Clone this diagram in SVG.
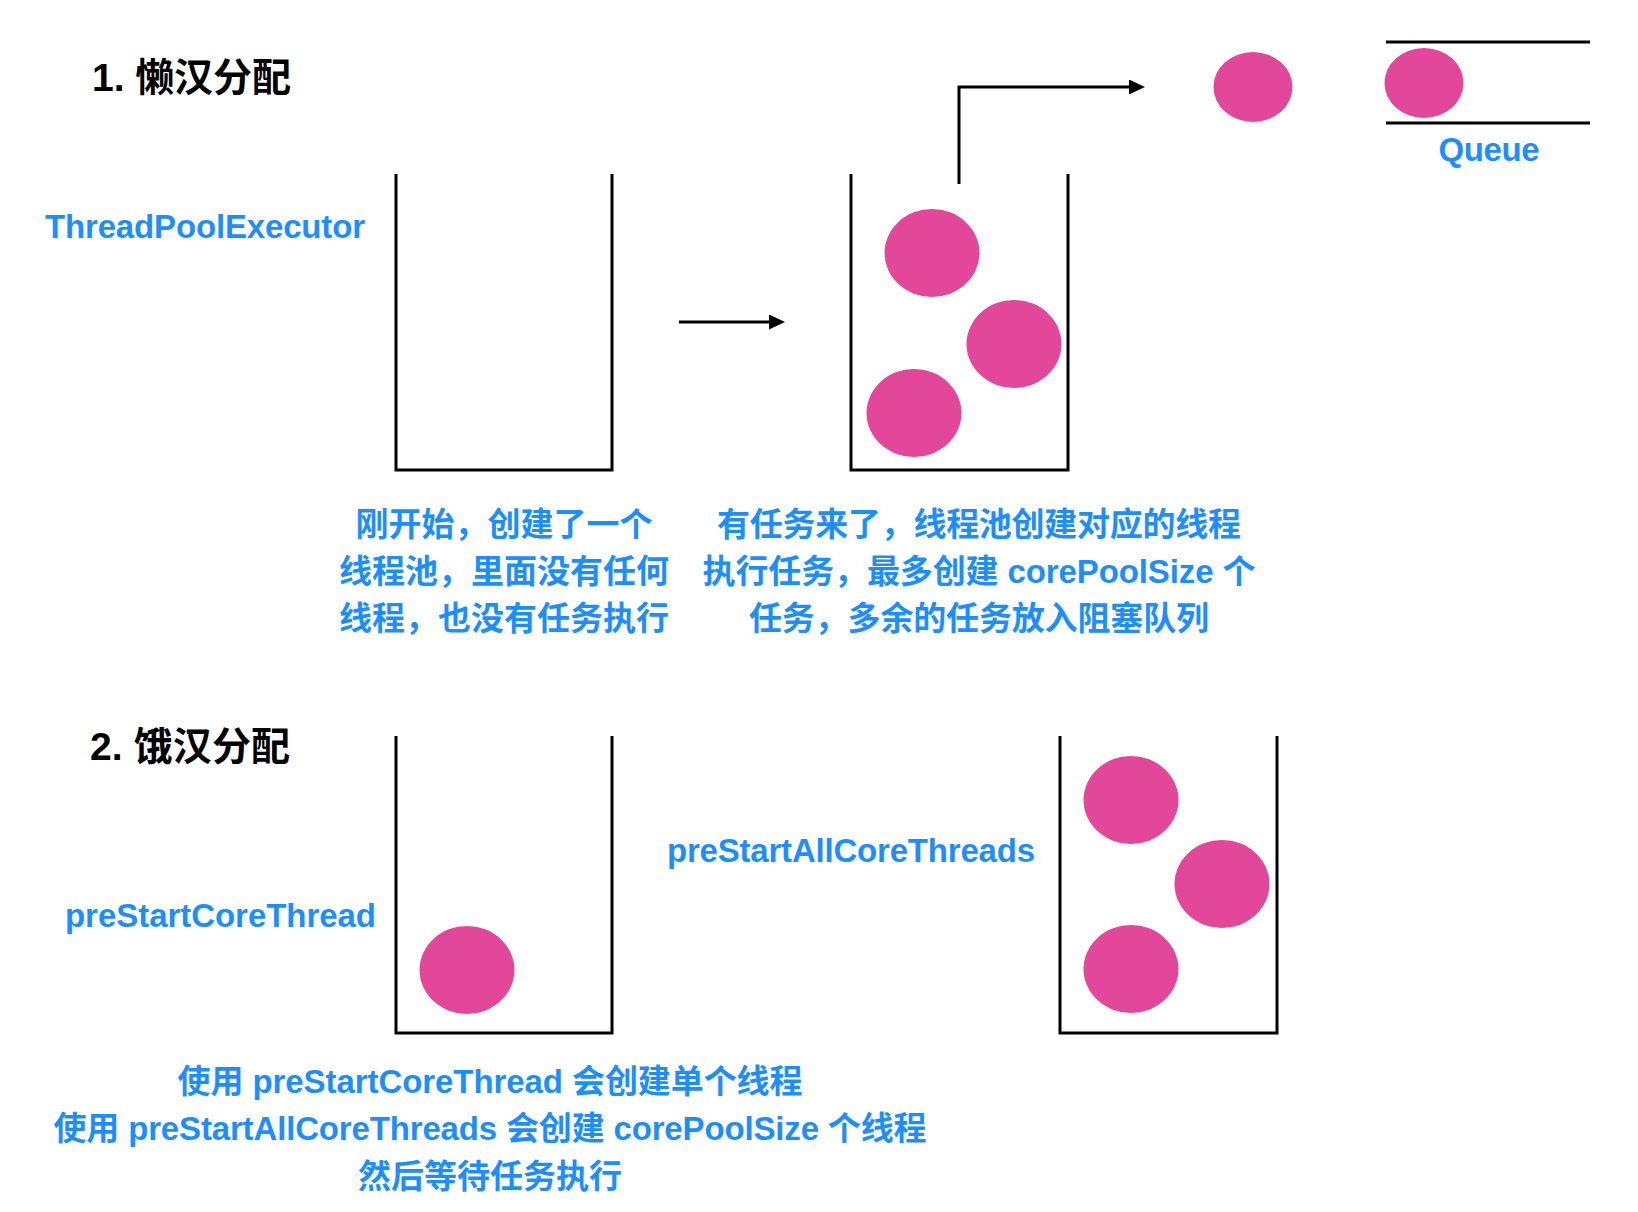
<svg xmlns="http://www.w3.org/2000/svg" width="1638" height="1212" viewBox="0 0 1638 1212">
<style>
.bg{fill:#ffffff}
.box{fill:none;stroke:#000;stroke-width:3}
.ball{fill:#E3479A}
.wire{fill:none;stroke:#000;stroke-width:3}
.t{font-family:"Liberation Sans","Noto Sans CJK SC",sans-serif;font-weight:bold}
.blue{fill:#1E8EFF;font-size:33px}
.head{fill:#000;font-size:39px}
</style>
<defs>
<marker id="ah" viewBox="0 0 16 15" refX="0" refY="7.5" markerWidth="16" markerHeight="15" markerUnits="userSpaceOnUse" orient="auto">
<path d="M0,0 L16,7.5 L0,15 z" fill="#000"/>
</marker>
</defs>
<rect class="bg" x="0" y="0" width="1638" height="1212"/>

<g id="heading1"><text class="t head" x="92" y="91" textLength="199">1. 懒汉分配</text></g>
<g id="heading2"><text class="t head" x="90" y="760" textLength="200">2. 饿汉分配</text></g>

<g id="label-threadpool"><text class="t blue" x="45" y="238" textLength="320">ThreadPoolExecutor</text></g>

<g id="pool-empty">
<path class="box" d="M396,174 V470 H612 V174"/>
</g>

<g id="pool-running">
<path class="box" d="M851,174 V470 H1068 V174"/>
<ellipse class="ball" cx="932" cy="253" rx="47.5" ry="44"/>
<ellipse class="ball" cx="1014" cy="344" rx="47.5" ry="44"/>
<ellipse class="ball" cx="914" cy="413" rx="47.5" ry="44"/>
</g>

<g id="task-out"><ellipse class="ball" cx="1253" cy="87" rx="39.5" ry="35"/></g>

<g id="queue">
<line class="wire" x1="1386" y1="42" x2="1590" y2="42"/>
<line class="wire" x1="1386" y1="123" x2="1590" y2="123"/>
<ellipse class="ball" cx="1424" cy="83" rx="39.5" ry="35"/>
<text class="t blue" x="1489" y="161" text-anchor="middle" textLength="101">Queue</text>
</g>

<g id="connectors">
<line class="wire" x1="679" y1="322" x2="769" y2="322" marker-end="url(#ah)"/>
<path class="wire" d="M959,184 V87 H1129" marker-end="url(#ah)"/>
</g>

<g id="desc-empty">
<text class="t blue" x="504" y="536" text-anchor="middle">刚开始，创建了一个</text>
<text class="t blue" x="504" y="583" text-anchor="middle">线程池，里面没有任何</text>
<text class="t blue" x="504" y="630" text-anchor="middle">线程，也没有任务执行</text>
</g>

<g id="desc-running">
<text class="t blue" x="979" y="536" text-anchor="middle" textLength="524">有任务来了，线程池创建对应的线程</text>
<text class="t blue" x="979" y="583" text-anchor="middle" textLength="553">执行任务，最多创建 corePoolSize 个</text>
<text class="t blue" x="979" y="630" text-anchor="middle" textLength="460">任务，多余的任务放入阻塞队列</text>
</g>

<g id="label-core"><text class="t blue" x="65" y="927" textLength="311">preStartCoreThread</text></g>

<g id="pool-core">
<path class="box" d="M396,736 V1033 H612 V736"/>
<ellipse class="ball" cx="467" cy="970" rx="47.5" ry="44"/>
</g>

<g id="label-allcore"><text class="t blue" x="667" y="862" textLength="368">preStartAllCoreThreads</text></g>

<g id="pool-allcore">
<path class="box" d="M1060,736 V1033 H1277 V736"/>
<ellipse class="ball" cx="1131" cy="800" rx="47.5" ry="44"/>
<ellipse class="ball" cx="1222" cy="884" rx="47.5" ry="44"/>
<ellipse class="ball" cx="1131" cy="969" rx="47.5" ry="44"/>
</g>

<g id="desc-eager">
<text class="t blue" x="490" y="1093" text-anchor="middle" textLength="625">使用 preStartCoreThread 会创建单个线程</text>
<text class="t blue" x="490" y="1140" text-anchor="middle" textLength="873">使用 preStartAllCoreThreads 会创建 corePoolSize 个线程</text>
<text class="t blue" x="490" y="1188" text-anchor="middle">然后等待任务执行</text>
</g>
</svg>
